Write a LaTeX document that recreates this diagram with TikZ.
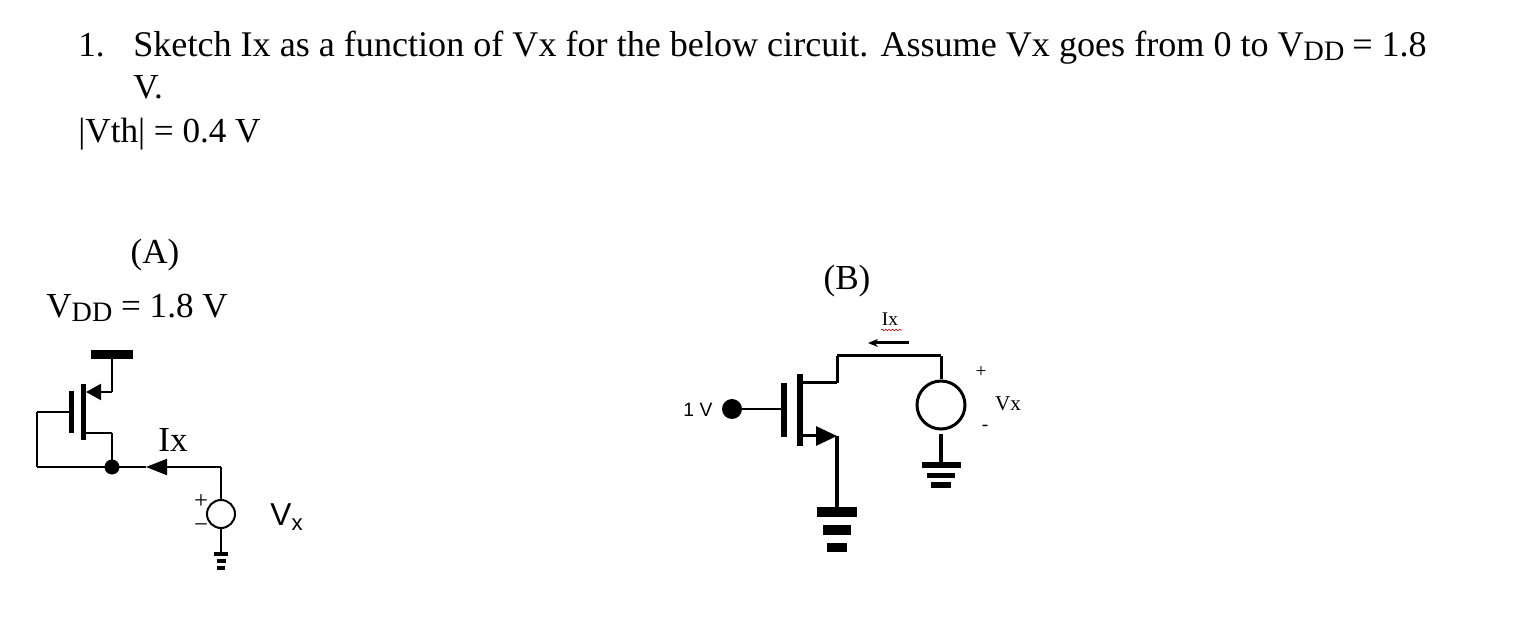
\documentclass[tikz,border=0pt]{standalone}
\usepackage{fontspec}
\setmainfont{Liberation Serif}
\setsansfont{Liberation Sans}
\usetikzlibrary{arrows.meta,decorations.pathmorphing}
\newcommand{\subdd}{\raisebox{-0.22ex}{\fontsize{16}{16}\selectfont DD}}
\tikzset{
	wire/.style={line width=0.04cm},
	heavy/.style={line width=0.06cm},
	bar/.style={line width=#1},
	txt/.style={anchor=base west,inner sep=0pt,font=\fontsize{20}{20}\selectfont},
	lbl/.style={inner sep=0pt,font=\fontsize{#1}{#1}\selectfont},
	src/.style={draw,circle,inner sep=0pt,fill=white},
	dot/.style={circle,fill=black,inner sep=0pt}
}
\begin{document}
\begin{tikzpicture}
	\useasboundingbox (0,0) rectangle (30.76,12.84);

	% question text
	\node [txt] (t0) at (1.56, 11.70) {1.};
	\node [txt,font=\fontsize{20.55}{20.55}\selectfont] (t1) at (2.66, 11.70) {Sketch Ix as a function of Vx for the below circuit. Assume Vx goes from 0 to V\subdd{}\hspace{4.5pt}= 1.8};
	\node [txt] (t2) at (2.66, 10.86) {V.};
	\node [txt] (t3) at (1.56, 9.98) {|Vth| = 0.4 V};
	\node [lbl=20] (t4) at (3.10, 7.74) {(A)};
	\node [txt] (t5) at (0.92, 6.48) {V\subdd{} = 1.8 V};
	\node [lbl=20] (t6) at (16.94, 7.22) {(B)};

	% circuit A
	\node  (0) at (1.82, 5.75) {};
	\node  (1) at (2.66, 5.75) {};
	\node  (2) at (2.24, 5.75) {};
	\node  (3) at (2.24, 5.00) {};
	\node  (4) at (1.72, 5.00) {};
	\node  (5) at (1.67, 5.16) {};
	\node  (6) at (1.67, 4.04) {};
	\node  (7) at (1.43, 5.02) {};
	\node  (8) at (1.43, 4.18) {};
	\node  (9) at (1.43, 4.60) {};
	\node  (10) at (0.74, 4.60) {};
	\node  (11) at (0.74, 3.50) {};
	\node [dot,minimum size=0.3cm] (12) at (2.24, 3.50) {};
	\node  (13) at (2.24, 4.18) {};
	\node  (14) at (1.67, 4.18) {};
	\node  (15) at (2.92, 3.50) {};
	\node  (16) at (4.42, 3.50) {};
	\node [src,wire,minimum size=0.56cm] (17) at (4.42, 2.56) {};
	\node  (18) at (4.42, 1.76) {};
	\node  (19) at (4.28, 1.76) {};
	\node  (20) at (4.56, 1.76) {};
	\node  (21) at (4.33, 1.62) {};
	\node  (22) at (4.52, 1.62) {};
	\node  (23) at (4.34, 1.48) {};
	\node  (24) at (4.50, 1.48) {};
	\node [lbl=14] (25) at (4.02, 2.80) {+};
	\node [lbl=14] (26) at (4.02, 2.28) {−};
	\node [lbl=19,font=\sffamily\fontsize{18}{18}\selectfont] (27) at (5.74, 2.50) {V\textsubscript{x}};
	\node [lbl=20] (28) at (3.46, 4.04) {Ix};

	\draw [bar=0.18cm] (0.center) to (1.center);
	\draw [wire] (2.center) to (3.center);
	\draw [wire,-{Triangle[length=0.3cm,width=0.32cm]}] (3.center) to (4.center);
	\draw [bar=0.1cm] (5.center) to (6.center);
	\draw [bar=0.1cm] (7.center) to (8.center);
	\draw [wire] (9.center) to (10.center);
	\draw [wire] (10.center) to (11.center);
	\draw [wire] (11.center) to (12.center);
	\draw [wire] (14.center) to (13.center);
	\draw [wire] (13.center) to (12.center);
	\draw [wire] (12.center) to (15.center);
	\draw [wire,-{Triangle[length=0.42cm,width=0.32cm]}] (16.center) to (15.center);
	\draw [wire] (16.center) to (17);
	\draw [wire] (17) to (18.center);
	\draw [bar=0.08cm] (19.center) to (20.center);
	\draw [bar=0.08cm] (21.center) to (22.center);
	\draw [bar=0.08cm] (23.center) to (24.center);

	% circuit B
	\node  (30) at (16.00, 5.36) {};
	\node  (31) at (16.00, 3.92) {};
	\node  (32) at (15.68, 5.18) {};
	\node  (33) at (15.68, 4.10) {};
	\node  (34) at (15.68, 4.66) {};
	\node [dot,minimum size=0.4cm] (35) at (14.64, 4.66) {};
	\node  (36) at (16.00, 5.18) {};
	\node  (37) at (16.74, 5.18) {};
	\node  (38) at (16.74, 5.72) {};
	\node  (39) at (18.82, 5.72) {};
	\node [src,heavy,minimum size=0.96cm] (40) at (18.82, 4.74) {};
	\node  (41) at (16.00, 4.12) {};
	\node  (42) at (16.74, 4.12) {};
	\node  (43) at (16.74, 2.60) {};
	\node  (44) at (16.34, 2.60) {};
	\node  (45) at (17.14, 2.60) {};
	\node  (46) at (16.46, 2.24) {};
	\node  (47) at (17.02, 2.24) {};
	\node  (48) at (16.54, 1.89) {};
	\node  (49) at (16.94, 1.89) {};
	\node  (50) at (18.82, 4.16) {};
	\node  (51) at (18.82, 3.54) {};
	\node  (52) at (18.44, 3.54) {};
	\node  (53) at (19.22, 3.54) {};
	\node  (54) at (18.54, 3.33) {};
	\node  (55) at (19.10, 3.33) {};
	\node  (56) at (18.62, 3.14) {};
	\node  (57) at (19.02, 3.14) {};
	\node  (58) at (18.18, 5.98) {};
	\node  (59) at (17.36, 5.98) {};
	\node  (60) at (17.62, 6.24) {};
	\node  (61) at (18.04, 6.24) {};
	\node [lbl=11] (62) at (17.80, 6.46) {Ix};
	\node [lbl=11] (63) at (19.62, 5.40) {+};
	\node [lbl=11] (64) at (19.70, 4.28) {-};
	\node [lbl=12] (65) at (20.16, 4.76) {Vx};
	\node [lbl=11,font=\sffamily\fontsize{11}{11}\selectfont] (66) at (13.96, 4.64) {1 V};

	\draw [bar=0.12cm] (30.center) to (31.center);
	\draw [bar=0.12cm] (32.center) to (33.center);
	\draw [wire] (34.center) to (35);
	\draw [heavy] (36.center) to (37.center);
	\draw [heavy] (37.center) to (38.center);
	\draw [heavy] (38.center) to (39.center);
	\draw [heavy] (39.center) to (40);
	\draw [heavy,-{Triangle[length=0.42cm,width=0.38cm]}] (41.center) to (42.center);
	\draw [bar=0.08cm] (42.center) to (43.center);
	\draw [bar=0.2cm] (44.center) to (45.center);
	\draw [bar=0.2cm] (46.center) to (47.center);
	\draw [bar=0.19cm] (48.center) to (49.center);
	\draw [bar=0.08cm] (50.center) to (51.center);
	\draw [bar=0.12cm] (52.center) to (53.center);
	\draw [bar=0.1cm] (54.center) to (55.center);
	\draw [bar=0.12cm] (56.center) to (57.center);
	\draw [heavy,-{Stealth[length=0.2cm,width=0.16cm]}] (58.center) to (59.center);
	\draw [red!80!black,line width=0.012cm,decorate,decoration={snake,amplitude=0.015cm,segment length=0.07cm}] (60.center) to (61.center);
\end{tikzpicture}
\end{document}
